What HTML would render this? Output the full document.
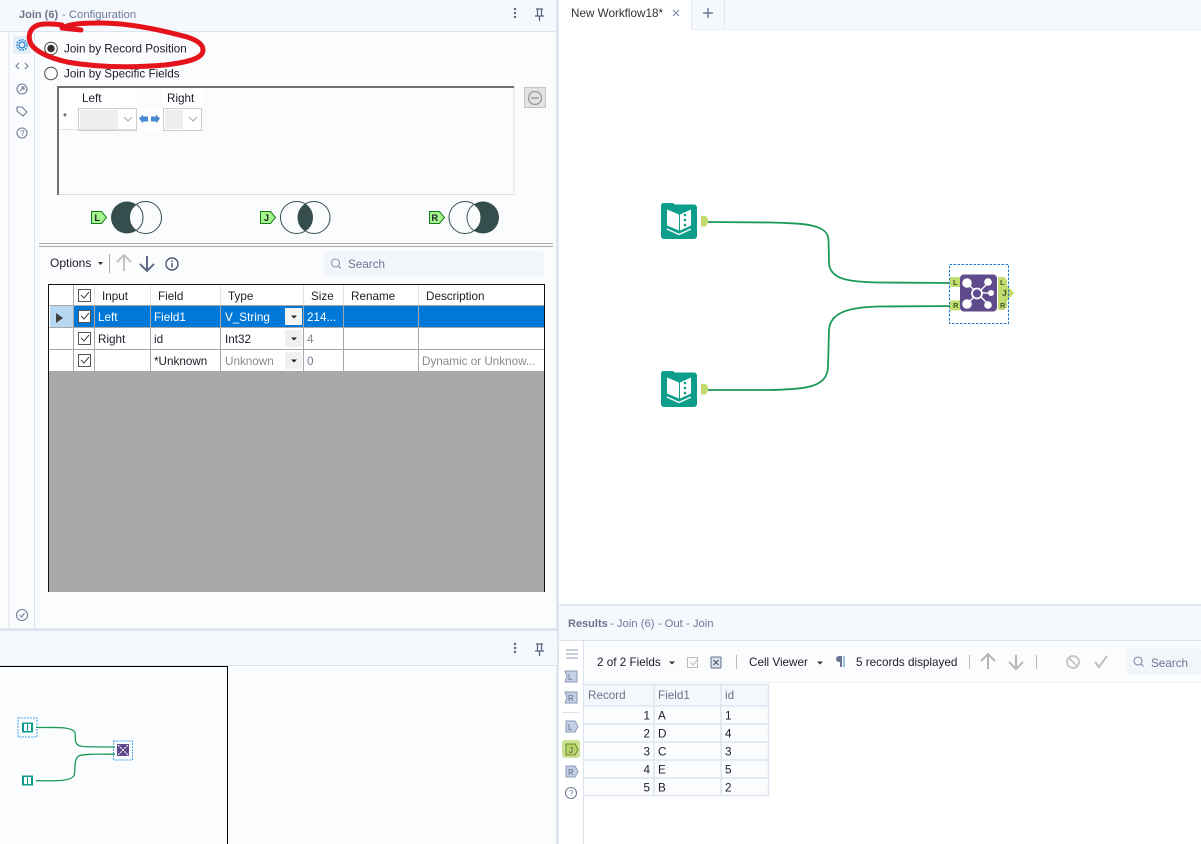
<!DOCTYPE html>
<html><head><meta charset="utf-8"><style>
html,body{margin:0;padding:0;background:#fff;width:1201px;height:844px;overflow:hidden}
svg{display:block}
text{font-family:"Liberation Sans",sans-serif;font-size:11.7px;fill:#1c1c2a}
.g{fill:#8a8a8a}.h{fill:#222}.w{fill:#fff}.b{fill:#5a6a8a}.s{fill:#6a7690}
.c{fill:#fff;stroke:#555;stroke-width:1}
.l{stroke:#a8a8a8;stroke-width:1}
.r{stroke:#dce5f1;stroke-width:1.5}
.w1{fill:none;stroke:#1a9a55;stroke-width:1.8}
.ic{fill:none;stroke:#717c96;stroke-width:1.1}
.ar{fill:none;stroke:#b5b5b5;stroke-width:2}
</style></head><body>
<svg width="1201" height="844" viewBox="0 0 1201 844" xmlns="http://www.w3.org/2000/svg">
<rect width="1201" height="844" fill="#fff"/>
<!-- Left panel -->
<rect x="0" y="0" width="557" height="844" fill="#fbfcfe"/>
<rect x="0" y="0" width="557" height="31" fill="#f5f8fd"/>
<rect x="0" y="31" width="557" height="1" fill="#dbe3f0"/>
<rect x="8" y="32" width="2" height="597" fill="#edf1f7"/>
<rect x="34" y="32" width="1" height="597" fill="#dbe3f0"/>
<rect x="556" y="0" width="3" height="844" fill="#dfe6f2"/>
<text x="19" y="18" style="font-size:11px;font-weight:bold;fill:#6d7488">Join (6)</text>
<text x="62" y="18" style="fill:#6b7a98;font-size:11.3px">- Configuration</text>
<g fill="#5a6480"><circle cx="515" cy="9" r="1.2"/><circle cx="515" cy="13" r="1.2"/><circle cx="515" cy="17" r="1.2"/></g>
<path d="M536 9h7M537.500 9v7M541.500 9v7M535 16h9M539.500 16v5" fill="none" stroke="#56617c" stroke-width="1.200"/>
<!-- Side icons -->
<rect x="13" y="36" width="18" height="18" rx="2" fill="#e5effa"/>
<circle cx="22" cy="45" r="3" fill="none" stroke="#2d86d4" stroke-width="1.300"/><circle cx="22" cy="45" r="5.200" fill="none" stroke="#2d86d4" stroke-width="1.300" stroke-dasharray="2 1"/>
<path d="M19 63l-3 3 3 3M25 63l3 3-3 3" class="ic"/>
<circle cx="22" cy="89" r="5" class="ic"/><path d="M20 91l4-4M21 87h3v3" class="ic"/>
<path d="M17 107h5l5 5-4 4-6-5z" class="ic"/>
<circle cx="22" cy="133" r="5" class="ic"/><text x="20" y="136" style="font-size:8px;fill:#717c96">?</text>
<circle cx="22" cy="615" r="5.500" class="ic"/><path d="M19.500 615l2 2 3-4" class="ic"/>
<!-- Radios -->
<circle cx="51" cy="48.500" r="6.300" fill="#fff" stroke="#444" stroke-width="1"/><circle cx="51" cy="48.500" r="3.700" fill="#333"/>
<text x="64" y="52.500">Join by Record Position</text>
<circle cx="51" cy="73.500" r="6.300" fill="#fff" stroke="#444" stroke-width="1"/>
<text x="64" y="77.500">Join by Specific Fields</text>
<!-- Join fields box -->
<rect x="58" y="87" width="456" height="107.500" fill="#fbfcfe" stroke="#dedede"/>
<rect x="57" y="86" width="457" height="2" fill="#707070"/><rect x="57" y="86" width="2" height="109" fill="#707070"/>
<rect x="59" y="88" width="19" height="41" fill="#fff"/>
<rect x="78" y="88" width="59" height="20" fill="#fff"/>
<rect x="163" y="88" width="39" height="20" fill="#fff"/>
<rect x="137" y="108" width="26" height="22" fill="#fff"/>
<text x="82" y="102">Left</text><text x="167" y="102">Right</text><text x="63" y="120" style="font-size:10px">*</text>
<rect x="78.500" y="108.500" width="58" height="22" fill="#fff" stroke="#ccc"/>
<rect x="80" y="110" width="38" height="19" fill="#eeeeee"/>
<path d="M124 117l4 4 4-4" fill="none" stroke="#aaa"/>
<rect x="163.500" y="108.500" width="38" height="22" fill="#fff" stroke="#ccc"/>
<rect x="165" y="110" width="18" height="19" fill="#eeeeee"/>
<path d="M189 117l4 4 4-4" fill="none" stroke="#aaa"/>
<path d="M139 118.500l4-4v2h5v5h-5v2z" fill="#4a8ad0"/><path d="M160 118.500l-4-4v2h-5v5h5v2z" fill="#4a8ad0"/>
<line x1="59" y1="129.500" x2="137" y2="129.500" stroke="#e2e2e2"/>
<rect x="524.500" y="87.500" width="21" height="20" fill="#e3e3e6" stroke="#c4c4c4"/><circle cx="535" cy="98" r="6.500" fill="none" stroke="#999" stroke-width="1.300"/><line x1="531" y1="98" x2="539" y2="98" stroke="#999" stroke-width="1.500"/>
<!-- Venn -->
<path d="M91.500 211.500h10l5 6-5 6h-10z" fill="#a5f58a" stroke="#157a1e"/><text x="94.500" y="221" style="font-size:9px;font-weight:bold">L</text>
<path d="M260.500 211.500h10l5 6-5 6h-10z" fill="#a5f58a" stroke="#157a1e"/><text x="264" y="221" style="font-size:9px;font-weight:bold">J</text>
<path d="M429.500 211.500h10l5 6-5 6h-10z" fill="#a5f58a" stroke="#157a1e"/><text x="431.500" y="221" style="font-size:9px;font-weight:bold">R</text>
<circle cx="127" cy="217.500" r="16" fill="#354e4d"/><circle cx="145.500" cy="217.500" r="16" fill="none" stroke="#354e4d"/>
<path d="M136.250 204.450A16 16 0 0 1 136.250 230.550A16 16 0 0 1 136.250 204.450z" fill="#fbfcfe" stroke="#354e4d"/>
<circle cx="296.500" cy="217.500" r="16" fill="#fbfcfe" stroke="#354e4d"/><circle cx="314" cy="217.500" r="16" fill="none" stroke="#354e4d"/>
<path d="M305.250 204.100A16 16 0 0 1 305.250 230.900A16 16 0 0 1 305.250 204.100z" fill="#354e4d"/>
<circle cx="483" cy="217.500" r="16" fill="#354e4d"/><circle cx="465" cy="217.500" r="16" fill="none" stroke="#354e4d"/>
<path d="M474 204.300A16 16 0 0 1 474 230.700A16 16 0 0 1 474 204.300z" fill="#fbfcfe" stroke="#354e4d"/>
<!-- Separators -->
<rect x="39" y="243" width="514" height="1" fill="#aaa"/><rect x="39" y="246" width="514" height="1" fill="#aaa"/>
<!-- Options bar -->
<text x="50" y="267" style="font-size:12px">Options</text><path d="M98 262h5l-2.500 3z" fill="#333"/>
<line x1="109.500" y1="254" x2="109.500" y2="273" stroke="#aaa"/>
<path d="M124 271v-15M117 262l7-7 7 7" class="ar" style="stroke:#c2c2c2"/>
<path d="M147 256v15M140 264l7 7 7-7" class="ar" style="stroke:#5e6c86"/>
<circle cx="172" cy="264" r="6" fill="none" stroke="#4e5a72" stroke-width="1.400"/><rect x="171.300" y="263" width="1.500" height="4.500" fill="#4e5a72"/><rect x="171.300" y="260.500" width="1.500" height="1.500" fill="#4e5a72"/>
<rect x="324" y="251" width="220" height="25" rx="3" fill="#f2f5fa"/>
<circle cx="335.500" cy="263" r="4" fill="none" stroke="#8a96ae" stroke-width="1.100"/><line x1="338.500" y1="266" x2="341" y2="268.500" stroke="#8a96ae" stroke-width="1.100"/>
<text x="348" y="268" class="s">Search</text>
<!-- Grid -->
<rect x="49" y="285" width="495" height="307" fill="#a9a9a9"/>
<rect x="49" y="285" width="495" height="87" fill="#fff"/>
<rect x="74" y="306" width="470" height="22" fill="#0078d7"/>
<rect x="50" y="306" width="24" height="22" fill="#b8d8f2"/>
<path d="M56 313l7 5-7 5z" fill="#404040"/>
<g class="l">
<line x1="49" y1="305.500" x2="544" y2="305.500" stroke="#a8a8a8"/>
<line x1="49" y1="327.500" x2="544" y2="327.500" stroke="#a8a8a8"/>
<line x1="49" y1="349.500" x2="544" y2="349.500" stroke="#a8a8a8"/>
<line x1="49" y1="371.500" x2="544" y2="371.500" stroke="#a8a8a8"/>
<line x1="73.500" y1="285" x2="73.500" y2="372"/><line x1="94.500" y1="305" x2="94.500" y2="372"/>
<line x1="150.500" y1="305" x2="150.500" y2="372"/><line x1="220.500" y1="305" x2="220.500" y2="372"/>
<line x1="303.500" y1="305" x2="303.500" y2="372"/><line x1="343.500" y1="305" x2="343.500" y2="372"/>
<line x1="418.500" y1="305" x2="418.500" y2="372"/>
</g>
<g stroke="#e4e4e4"><line x1="94.500" y1="285" x2="94.500" y2="305"/><line x1="150.500" y1="285" x2="150.500" y2="305"/><line x1="220.500" y1="285" x2="220.500" y2="305"/><line x1="303.500" y1="285" x2="303.500" y2="305"/><line x1="343.500" y1="285" x2="343.500" y2="305"/><line x1="418.500" y1="285" x2="418.500" y2="305"/></g>
<path d="M48.500 592V284.500H544.500V592" fill="none" stroke="#111" stroke-width="1"/>
<g><rect x="78.500" y="289.500" width="12" height="12" class="c"/><path d="M81 295l3 3 5-6" fill="none" stroke="#444"/>
<rect x="78.500" y="310.500" width="12" height="12" class="c"/><path d="M81 316l3 3 5-6" fill="none" stroke="#444"/>
<rect x="78.500" y="332.500" width="12" height="12" class="c"/><path d="M81 338l3 3 5-6" fill="none" stroke="#444"/>
<rect x="78.500" y="354.500" width="12" height="12" class="c"/><path d="M81 360l3 3 5-6" fill="none" stroke="#444"/></g>
<text x="102" y="300" class="h">Input</text><text x="158" y="300" class="h">Field</text><text x="228" y="300" class="h">Type</text><text x="311" y="300" class="h">Size</text><text x="351" y="300" class="h">Rename</text><text x="426" y="300" class="h">Description</text>
<text x="98" y="321" class="w">Left</text><text x="154" y="321" class="w">Field1</text><text x="225" y="321" class="w">V_String</text><text x="307" y="321" class="w">214...</text>
<text x="98" y="343">Right</text><text x="154" y="343">id</text><text x="225" y="343">Int32</text><text x="307" y="343" class="g">4</text>
<text x="154" y="365">*Unknown</text><text x="225" y="365" class="g">Unknown</text><text x="307" y="365" style="fill:#6a7a98">0</text><text x="422" y="365" class="g">Dynamic or Unknow...</text>
<rect x="285" y="308" width="17" height="17" fill="#f4f4f4"/><path d="M291 315.500h6l-3 3z" fill="#222"/>
<rect x="285" y="330" width="17" height="17" fill="#f0f0f0"/><path d="M291 337.500h6l-3 3z" fill="#222"/>
<rect x="285" y="352" width="17" height="17" fill="#f0f0f0"/><path d="M291 359.500h6l-3 3z" fill="#222"/>
<!-- Bottom left -->
<rect x="0" y="628" width="557" height="3" fill="#dfe6f2"/>
<rect x="0" y="631" width="557" height="34" fill="#f5f8fd"/>
<rect x="0" y="665" width="557" height="1" fill="#dbe3f0"/>
<g fill="#5a6480"><circle cx="515" cy="644" r="1.200"/><circle cx="515" cy="648" r="1.200"/><circle cx="515" cy="652" r="1.200"/></g>
<path d="M536 644h7M537.500 644v7M541.500 644v7M535 651h9M539.500 651v5" fill="none" stroke="#56617c" stroke-width="1.200"/>
<rect x="0" y="666" width="227" height="178" fill="#fbfcfe"/>
<line x1="0" y1="666.500" x2="228" y2="666.500" stroke="#000" stroke-width="1"/><line x1="227.500" y1="666" x2="227.500" y2="844" stroke="#000"/>
<rect x="18" y="718" width="19" height="19" fill="none" stroke="#4ca4e8" stroke-dasharray="2 1"/>
<rect x="113.500" y="741" width="19" height="19" fill="none" stroke="#4ca4e8" stroke-dasharray="2 1"/>
<rect x="22" y="722.500" width="11" height="10" fill="#0e9c8c"/><rect x="24" y="724" width="3" height="7" fill="#fff"/><rect x="28" y="724" width="3" height="7" fill="#fff"/>
<rect x="22" y="775.500" width="11" height="10" fill="#0e9c8c"/><rect x="24" y="777" width="3" height="7" fill="#fff"/><rect x="28" y="777" width="3" height="7" fill="#fff"/>
<rect x="117" y="744" width="12" height="12" fill="#5f4a8b"/><path d="M118 745l10 10M128 745l-10 10" stroke="#fff" stroke-dasharray="2 1"/>
<path d="M36 727.500c20 0 36-1 39 5 1 7-2 13 8 14 8 .5 20 .5 32 .5" class="w1" style="stroke-width:1.300"/>
<path d="M36 780.700c20 0 34 1 38-5 2-5-1-16 5-20 6-2 20-1.500 36-1.500" class="w1" style="stroke-width:1.300"/>
<!-- Right: tabs -->
<rect x="559" y="0" width="642" height="29" fill="#f5f8fd"/>
<rect x="559" y="29" width="642" height="1" fill="#e6ebf4"/>
<rect x="559" y="0" width="132" height="30" fill="#fff"/>
<line x1="691.500" y1="0" x2="691.500" y2="29" stroke="#e3e9f3"/><line x1="724.500" y1="0" x2="724.500" y2="29" stroke="#e3e9f3"/>
<text x="571" y="17" style="fill:#333">New Workflow18*</text>
<path d="M673 10l6 6M679 10l-6 6" stroke="#7e8aa3" stroke-width="1.200"/>
<path d="M708 8v10M703 13h10" stroke="#6a7690" stroke-width="1.400"/>
<!-- Canvas: wires -->
<path d="M707 222L770 222.500C805 223.500 828 224 828.500 240L829 262C829 280 850 282 880 282.500L955 283" class="w1"/>
<path d="M707 390L770 390C805 389 827 388 828 367L829 330C830 312 850 307 880 306.500L955 306" class="w1"/>
<!-- Book nodes -->
<g id="n1"><path d="M663 203h10l2 1.500h19a3 3 0 0 1 3 3v28.500a3 3 0 0 1-3 3h-30a3 3 0 0 1-3-3v-30.500a3 3 0 0 1 2-2.500z" fill="#0d9d8b"/>
<path d="M667 209.500l12 5v16l-12-5zM691 209.500l-11 5v16l11-5z" fill="#fff"/><path d="M667 229l12 5.500 12-5.500" fill="none" stroke="#fff" stroke-width="1.300"/>
<circle cx="685" cy="215" r="1.300" fill="#0d9d8b"/><circle cx="685" cy="220" r="1.300" fill="#0d9d8b"/><circle cx="685" cy="225" r="1.300" fill="#0d9d8b"/>
<path d="M701 216h5l2 3v4l-2 3.500h-5z" fill="#c2dc6f"/></g>
<g id="n2"><path d="M663 371h10l2 1.500h19a3 3 0 0 1 3 3v28.500a3 3 0 0 1-3 3h-30a3 3 0 0 1-3-3v-30.500a3 3 0 0 1 2-2.500z" fill="#0d9d8b"/>
<path d="M667 377.500l12 5v16l-12-5zM691 377.500l-11 5v16l11-5z" fill="#fff"/><path d="M667 397l12 5.500 12-5.500" fill="none" stroke="#fff" stroke-width="1.300"/>
<circle cx="685" cy="383" r="1.300" fill="#0d9d8b"/><circle cx="685" cy="388" r="1.300" fill="#0d9d8b"/><circle cx="685" cy="393" r="1.300" fill="#0d9d8b"/>
<path d="M701 384h5l2 3v4l-2 3.500h-5z" fill="#c2dc6f"/></g>
<!-- Join node -->
<path d="M950 277h10v10h-10zM950 300.500h10v10h-10z" fill="#c2dc6f"/>
<rect x="960" y="274.500" width="37" height="37" rx="4" fill="#5f4a8b"/>
<g stroke="#fff" stroke-width="1.400"><line x1="967" y1="283" x2="988" y2="304"/><line x1="967" y1="304" x2="988" y2="283"/><line x1="978" y1="293" x2="990" y2="293"/></g>
<g fill="#fff"><circle cx="967" cy="283" r="4.800"/><circle cx="967" cy="304" r="4.800"/><circle cx="988" cy="282" r="3.800"/><circle cx="988" cy="305" r="3.800"/><circle cx="991" cy="293" r="3"/></g>
<circle cx="977" cy="293.500" r="5" fill="#5f4a8b" stroke="#fff" stroke-width="1.800"/>
<path d="M998 277h6l3 3v6h-9zM998 301h9v6l-3 3h-6z" fill="#c2dc6f"/>
<path d="M998 285h9l7 8-7 8h-9z" fill="#c2dc6f"/>
<rect x="949.500" y="264.500" width="59" height="59" fill="none" stroke="#1e78c8" stroke-dasharray="2.500 1.500"/>
<text x="953" y="285" style="font-size:7.500px;font-weight:bold;fill:#3e5a2b">L</text><text x="953" y="308" style="font-size:7.500px;font-weight:bold;fill:#3e5a2b">R</text>
<text x="1000" y="285" style="font-size:7.500px;font-weight:bold;fill:#3e5a2b">L</text><text x="1002" y="296" style="font-size:8.500px;font-weight:bold;fill:#3e5a2b">J</text><text x="1000" y="308" style="font-size:7.500px;font-weight:bold;fill:#3e5a2b">R</text>
<!-- Results -->
<rect x="559" y="604" width="642" height="2" fill="#e0e7f2"/>
<rect x="559" y="606" width="642" height="34" fill="#f5f8fd"/>
<rect x="559" y="640" width="642" height="1" fill="#dbe3f0"/>
<text x="568" y="627" style="font-size:11px;font-weight:bold;fill:#6d7488">Results</text>
<text x="610" y="627" style="fill:#6b7a98;font-size:11.300px">- Join (6) - Out - Join</text>
<rect x="583" y="641" width="1" height="203" fill="#dbe3f0"/>
<rect x="584" y="641" width="617" height="42" fill="#fbfcfe"/>
<rect x="584" y="682" width="617" height="1" fill="#eef1f6"/>
<path d="M566 650h12M566 654h12M566 658h12" stroke="#8d99b2" stroke-width="1"/>
<path d="M565 671h12v11h-12l2-5.500z" fill="#c4d0e4" stroke="#8d99b2"/><text x="568" y="680" style="font-size:8px;fill:#5a6a8a">L</text>
<path d="M565 692h12v11h-12l2-5.500z" fill="#c4d0e4" stroke="#8d99b2"/><text x="568" y="701" style="font-size:8px;fill:#5a6a8a">R</text>
<line x1="562" y1="712.500" x2="579" y2="712.500" stroke="#dbe3f0"/>
<path d="M566 721h9l3 5.500-3 5.500h-9z" fill="#c4d0e4" stroke="#8d99b2"/><text x="568" y="730" style="font-size:8px;fill:#5a6a8a">L</text>
<rect x="562" y="740" width="18" height="18" rx="3" fill="#c9e294"/>
<path d="M566 744h9l3 5.500-3 5.500h-9z" fill="#b9d56a" stroke="#70852f"/><text x="569" y="753" style="font-size:8px;fill:#445">J</text>
<path d="M566 766h9l3 5.500-3 5.500h-9z" fill="#c4d0e4" stroke="#8d99b2"/><text x="568" y="775" style="font-size:8px;fill:#5a6a8a">R</text>
<circle cx="571" cy="793" r="5.500" class="ic"/><text x="569" y="796" style="font-size:8px;fill:#717c96">?</text>
<!-- Results toolbar -->
<text x="597" y="666">2 of 2 Fields</text><path d="M669 661.500h6l-3 3z" fill="#333"/>
<rect x="687.500" y="657.500" width="10" height="10" fill="none" stroke="#bbb"/><path d="M690 662l3 3 5-6" fill="none" stroke="#bbb"/>
<rect x="711" y="657" width="10" height="11" rx="1" fill="#dde3ee" stroke="#5f6d88"/><path d="M713.500 660l5 5M718.500 660l-5 5" stroke="#4a5670" stroke-width="1.200"/>
<line x1="736.500" y1="655" x2="736.500" y2="669" stroke="#bbb"/>
<text x="749" y="666">Cell Viewer</text><path d="M817 661.500h6l-3 3z" fill="#333"/>
<path d="M842 656h-3a3 3 0 0 0 0 6h1v5h2z" fill="#6a7690"/><rect x="843" y="656" width="2" height="11" fill="#9dc4e8"/>
<text x="856" y="666">5 records displayed</text>
<line x1="969.500" y1="655" x2="969.500" y2="669" stroke="#bbb"/>
<path d="M988 669v-14M981 661l7-7 7 7" class="ar"/><path d="M1016 655v14M1009 662l7 7 7-7" class="ar"/>
<line x1="1036.500" y1="655" x2="1036.500" y2="669" stroke="#bbb"/>
<circle cx="1073" cy="662" r="6" fill="none" stroke="#c4c4c4" stroke-width="1.800"/><line x1="1069" y1="658" x2="1077" y2="666" stroke="#c4c4c4" stroke-width="1.800"/>
<path d="M1095 662l4 5 8-11" fill="none" stroke="#bdbdbd" stroke-width="2"/>
<rect x="1127" y="648" width="74" height="27" rx="3" fill="#f2f5fa"/>
<circle cx="1138" cy="661" r="4" fill="none" stroke="#7e8aa8" stroke-width="1.100"/><line x1="1141" y1="664" x2="1143.500" y2="666.500" stroke="#7e8aa8" stroke-width="1.100"/>
<text x="1151" y="667" class="s">Search</text>
<!-- Results table -->
<rect x="584" y="684" width="185" height="112" fill="#fbfcfe"/>
<rect x="584" y="685" width="185" height="21" fill="#f4f7fc"/>
<g class="r">
<line x1="584" y1="684.500" x2="769" y2="684.500"/><line x1="584" y1="706" x2="769" y2="706"/><line x1="584" y1="724" x2="769" y2="724"/><line x1="584" y1="742" x2="769" y2="742"/><line x1="584" y1="760" x2="769" y2="760"/><line x1="584" y1="778" x2="769" y2="778"/><line x1="584" y1="795.500" x2="769" y2="795.500"/>
<line x1="654" y1="684" x2="654" y2="796"/><line x1="721" y1="684" x2="721" y2="796"/><line x1="768.500" y1="684" x2="768.500" y2="796"/>
</g>
<text x="588" y="699" style="fill:#6a7488">Record</text><text x="658" y="699" style="fill:#6a7488">Field1</text><text x="725" y="699" style="fill:#6a7488">id</text>
<g>
<text x="650" y="719.500" text-anchor="end">1</text><text x="658" y="719.500">A</text><text x="725" y="719.500">1</text>
<text x="650" y="737.500" text-anchor="end">2</text><text x="658" y="737.500">D</text><text x="725" y="737.500">4</text>
<text x="650" y="755.500" text-anchor="end">3</text><text x="658" y="755.500">C</text><text x="725" y="755.500">3</text>
<text x="650" y="773.500" text-anchor="end">4</text><text x="658" y="773.500">E</text><text x="725" y="773.500">5</text>
<text x="650" y="791.500" text-anchor="end">5</text><text x="658" y="791.500">B</text><text x="725" y="791.500">2</text>
</g>
<!-- Red scribble -->
<path d="M81 30L62 28C70 24 80 23 100 23C130 23 165 31 187 37C200 41 203 46 203 50C203 58 190 62 165 65C130 68 95 67 67 62C50 58 36 52 31 44C27 36 30 28 38 25C45 23 55 24 62 25" fill="none" stroke="#e5141c" stroke-width="5" stroke-linecap="round" stroke-linejoin="round"/>
</svg>
</body></html>
